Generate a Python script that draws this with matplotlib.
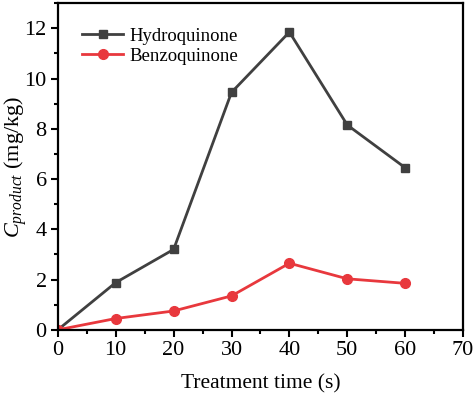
import numpy as np
import matplotlib
matplotlib.use("Agg")
import matplotlib.pyplot as plt
from matplotlib.ticker import MultipleLocator

# data
time_s = [0, 10, 20, 30, 40, 50, 60]
hydroquinone = [0, 1.88, 3.2, 9.45, 11.85, 8.15, 6.45]
benzoquinone = [0, 0.45, 0.75, 1.35, 2.65, 2.03, 1.85]

plt.rcParams['font.family'] = ['Liberation Serif', 'DejaVu Serif']
plt.rcParams['mathtext.fontset'] = 'custom'
plt.rcParams['mathtext.rm'] = 'Liberation Serif'
plt.rcParams['mathtext.it'] = 'Liberation Serif:italic'

fig = plt.figure(figsize=(4.74, 3.95), dpi=100)
ax = fig.add_axes([0.122, 0.165, 0.855, 0.827])

ax.plot(time_s, hydroquinone, color='#404040', marker='s', markersize=6,
        linewidth=2, label='Hydroquinone')
ax.plot(time_s, benzoquinone, color='#e8383d', marker='o', markersize=7,
        linewidth=2, label='Benzoquinone')

ax.set_xlim(0, 70)
ax.set_ylim(0, 13)
ax.xaxis.set_major_locator(MultipleLocator(10))
ax.xaxis.set_minor_locator(MultipleLocator(5))
ax.yaxis.set_major_locator(MultipleLocator(2))
ax.yaxis.set_minor_locator(MultipleLocator(1))
ax.tick_params(which='both', direction='out', top=False, right=False,
               labelsize=16, width=1.5)
ax.tick_params(which='major', length=5, pad=3)
ax.tick_params(which='minor', length=3)
for sp in ax.spines.values():
    sp.set_linewidth(1.6)

ax.set_xlabel('Treatment time (s)', fontsize=15.5, labelpad=10)
ax.set_ylabel(r'$C_{product}$ (mg/kg)', fontsize=16)
ax.yaxis.set_label_coords(-0.07, 0.5)

ax.legend(loc='upper left', frameon=False, fontsize=13.5, handlelength=2.2,
          handletextpad=0.3, borderaxespad=0.9, labelspacing=0.15)

fig.savefig('out.png', dpi=100)
